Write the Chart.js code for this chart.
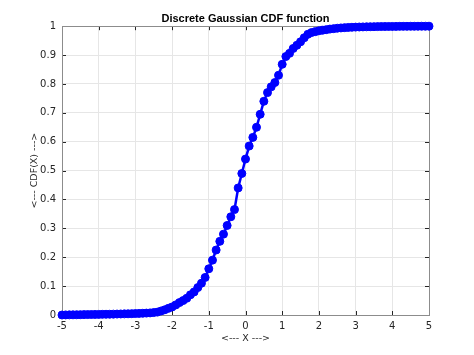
<!DOCTYPE html>
<html>
<head>
<meta charset="utf-8">
<script src="https://cdn.jsdelivr.net/npm/chart.js@4.4.1/dist/chart.umd.min.js"></script>
<style>
html,body{margin:0;padding:0;background:#fff;}
#wrap{width:474px;height:355px;position:relative;}
</style>
</head>
<body>
<div id="wrap"><canvas id="c" width="474" height="355"></canvas></div>
<script>
const xValues = [
-5.0,-4.9,-4.8,-4.7,-4.6,-4.5,-4.4,-4.3,-4.2,-4.1,
-4.0,-3.9,-3.8,-3.7,-3.6,-3.5,-3.4,-3.3,-3.2,-3.1,
-3.0,-2.9,-2.8,-2.7,-2.6,-2.5,-2.4,-2.3,-2.2,-2.1,
-2.0,-1.9,-1.8,-1.7,-1.6,-1.5,-1.4,-1.3,-1.2,-1.1,
-1.0,-0.9,-0.8,-0.7,-0.6,-0.5,-0.4,-0.3,-0.2,-0.1,
0.0,0.1,0.2,0.3,0.4,0.5,0.6,0.7,0.8,0.9,
1.0,1.1,1.2,1.3,1.4,1.5,1.6,1.7,1.8,1.9,
2.0,2.1,2.2,2.3,2.4,2.5,2.6,2.7,2.8,2.9,
3.0,3.1,3.2,3.3,3.4,3.5,3.6,3.7,3.8,3.9,
4.0,4.1,4.2,4.3,4.4,4.5,4.6,4.7,4.8,4.9,5.0];
const cdfValues = [
0.0000,0.0003,0.0005,0.0007,0.0009,0.0011,0.0013,0.0015,0.0017,0.0019,
0.0021,0.0023,0.0025,0.0027,0.0030,0.0033,0.0036,0.0039,0.0042,0.0046,
0.0050,0.0055,0.0060,0.0066,0.0073,0.0085,0.0100,0.0140,0.0180,0.0230,
0.0280,0.0350,0.0430,0.0500,0.0580,0.0700,0.0800,0.0950,0.1100,0.1300,
0.1600,0.1900,0.2250,0.2550,0.2800,0.3100,0.3400,0.3650,0.4400,0.4900,
0.5400,0.5850,0.6150,0.6500,0.6950,0.7400,0.7700,0.7900,0.8050,0.8300,
0.8680,0.8950,0.9060,0.9230,0.9340,0.9460,0.9600,0.9720,0.9780,0.9810,
0.9840,0.9860,0.9880,0.9900,0.9915,0.9930,0.9940,0.9950,0.9957,0.9963,
0.9968,0.9972,0.9976,0.9979,0.9982,0.9984,0.9986,0.9988,0.9990,0.9991,
0.9992,0.9993,0.9994,0.9995,0.9996,0.9997,0.9997,0.9998,0.9999,0.9999,1.0000];
const xTicks = [-5,-4,-3,-2,-1,0,1,2,3,4,5];
const yTicks = [0,0.1,0.2,0.3,0.4,0.5,0.6,0.7,0.8,0.9,1];
const titleText = 'Discrete Gaussian CDF function';
const xLabel = '<--- X --->';
const yLabel = '<--- CDF(X) --->';

const pts = xValues.map((x,i)=>({x:x,y:cdfValues[i]}));
const FONT = "'DejaVu Sans', sans-serif";

const boxPlugin = {
  id:'box',
  afterLayout(chart){
    if (chart.titleBlock) {
      chart.titleBlock.left = chart.chartArea.left;
      chart.titleBlock.right = chart.chartArea.right;
    }
  },
  beforeDatasetsDraw(chart){
    const {ctx, chartArea:a, scales} = chart;
    ctx.save();
    ctx.strokeStyle = '#262626';
    ctx.lineWidth = 1;
    ctx.beginPath();
    const L = 4;
    xTicks.forEach(v=>{
      const px = Math.round(scales.x.getPixelForValue(v))+0.5;
      ctx.moveTo(px,a.bottom); ctx.lineTo(px,a.bottom-L);
      ctx.moveTo(px,a.top); ctx.lineTo(px,a.top+L);
    });
    yTicks.forEach(v=>{
      const py = Math.round(scales.y.getPixelForValue(v))+0.5;
      ctx.moveTo(a.left,py); ctx.lineTo(a.left+L,py);
      ctx.moveTo(a.right,py); ctx.lineTo(a.right-L,py);
    });
    ctx.stroke();
    ctx.strokeStyle = '#8c8c8c';
    ctx.strokeRect(Math.round(a.left)+0.5, Math.round(a.top)+0.5, Math.round(a.right-a.left), Math.round(a.bottom-a.top));
    ctx.restore();
  }
};

new Chart(document.getElementById('c'), {
  type:'line',
  data:{datasets:[{
    data:pts,
    borderColor:'#0000ff',
    backgroundColor:'#0000ff',
    borderWidth:2.5,
    pointRadius:4,
    pointBorderWidth:1,
    pointBackgroundColor:'#0000ff',
    pointBorderColor:'#0000ff',
    tension:0,
    clip:false
  }]},
  options:{
    responsive:false,
    animation:false,
    devicePixelRatio:1,
    layout:{padding:{left:0,right:45,top:0,bottom:10}},
    plugins:{
      legend:{display:false},
      tooltip:{enabled:false},
      title:{display:true,text:titleText,color:'#000',
        font:{family:"'Liberation Sans', Arial, sans-serif",size:11,weight:'bold'},padding:{top:12,bottom:1}}
    },
    scales:{
      x:{type:'linear',min:-5,max:5,
        afterBuildTicks(s){s.ticks = xTicks.map(v=>({value:v}));},
        afterFit(s){s.height=30;},
        grid:{color:'#e6e6e6',drawTicks:false},
        border:{display:false},
        ticks:{padding:5,color:'#262626',font:{family:FONT,size:10},maxRotation:0,
          callback:(v)=>String(v)},
        title:{display:true,text:xLabel,color:'#262626',font:{family:FONT,size:9.5},padding:{top:0,bottom:1}}
      },
      y:{type:'linear',min:0,max:1,
        afterBuildTicks(s){s.ticks = yTicks.map(v=>({value:v}));},
        afterFit(s){s.width=62;},
        grid:{color:'#e6e6e6',drawTicks:false},
        border:{display:false},
        ticks:{padding:6,color:'#262626',font:{family:FONT,size:10},
          callback:(v)=>String(Math.round(v*10)/10)},
        title:{display:true,text:yLabel,color:'#262626',font:{family:FONT,size:9.5},padding:{top:29,bottom:0}}
      }
    }
  },
  plugins:[boxPlugin]
});
</script>
</body>
</html>
